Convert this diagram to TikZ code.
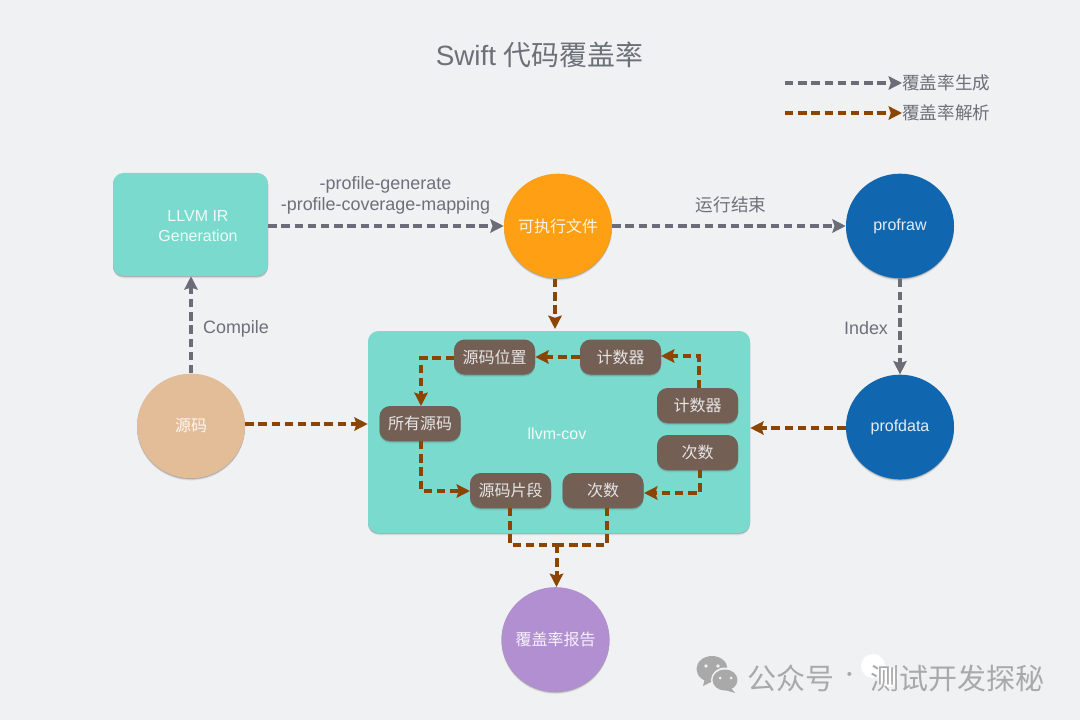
\documentclass[tikz,border=0pt]{standalone}
\usepackage{fontspec}
\setmainfont{Liberation Sans}
\newfontfamily\cjk{Noto Sans CJK SC}
\usetikzlibrary{arrows.meta,shadows,shapes.geometric}
\definecolor{bgc}{HTML}{EFF1F3}
\definecolor{teal}{HTML}{79DACD}
\definecolor{orangec}{HTML}{FF9F14}
\definecolor{bluec}{HTML}{1067B0}
\definecolor{peach}{HTML}{E3BC98}
\definecolor{purplec}{HTML}{B18FD0}
\definecolor{inner}{HTML}{745F55}
\definecolor{greyline}{HTML}{6B6C78}
\definecolor{brownline}{HTML}{8B4500}
\definecolor{txt}{HTML}{6C7078}
\definecolor{wm}{HTML}{A9A9A9}
\newcommand{\circtext}[1]{\makebox[0pt]{\raisebox{-0.8pt}{#1}}}
\tikzset{
  x=0.75pt,y=-0.75pt,
  softshadow/.style={
    drop shadow={shadow xshift=0pt,shadow yshift=-0.4pt,opacity=.30,fill=black!70},
    drop shadow={shadow xshift=0pt,shadow yshift=-1pt,opacity=.18,fill=black!70},
    drop shadow={shadow xshift=0pt,shadow yshift=-1.7pt,opacity=.09,fill=black!70}},
  circ/.style={ellipse,minimum width=81pt,minimum height=78.5pt,inner sep=0pt,softshadow,text=white,text opacity=.88,font=\cjk\fontsize{12}{14}\selectfont},
  bigbox/.style={rounded corners=8pt,fill=teal,softshadow,inner sep=0pt},
  innerbox/.style={rounded corners=8pt,fill=inner,minimum width=60.75pt,minimum height=26.25pt,inner sep=0pt,text=white!90!black,font=\cjk\fontsize{12}{14}\selectfont,softshadow},
  flow/.style={line width=3pt,dash pattern=on 6.3pt off 3.6pt,-{Stealth[length=10pt,width=10pt,inset=1.6pt]}},
  flownotip/.style={line width=3pt,dash pattern=on 6.3pt off 3.6pt},
  gen/.style={flow,draw=greyline,color=greyline},
  ana/.style={flow,draw=brownline,color=brownline},
  ananotip/.style={flownotip,draw=brownline},
  lab/.style={text=txt,inner sep=0pt,font=\fontsize{13.45}{15.75}\selectfont,align=center},
  cjklab/.style={text=txt,inner sep=0pt,font=\cjk\fontsize{13.2}{15}\selectfont},
  wmtext/.style={text=wm,inner sep=0pt,font=\cjk\fontsize{21.75}{24}\selectfont},
}
\begin{document}
\begin{tikzpicture}
\path[use as bounding box,fill=bgc] (0,0) rectangle (1080,720);
% title and legend
\node[text=txt,inner sep=0pt,font=\fontsize{20.9}{24}\selectfont] (title) at (539.5,55) {Swift {\cjk 代码覆盖率}};
\node[cjklab,anchor=west] (leg1) at (902,83) {覆盖率生成};
\node[cjklab,anchor=west] (leg2) at (902,113) {覆盖率解析};
\coordinate (leg1s) at (785,83);
\coordinate (leg2s) at (785,113);
\draw[gen] (leg1s) -- (leg1.west);
\draw[ana] (leg2s) -- (leg2.west);
% big nodes
\node[bigbox,minimum width=116.25pt,minimum height=77.25pt] (ir) at (190.5,224.5) {};
\node[text=white,text opacity=.88,inner sep=0pt,align=center,font=\fontsize{12}{15}\selectfont] (irlab) at (198,226) {LLVM IR\\Generation};
\node[circ,fill=orangec] (exec) at (558,226) {\circtext{可执行文件}};
\node[circ,fill=bluec,font=\fontsize{12}{14}\selectfont] (raw) at (900,226) {\circtext{profraw}};
\node[circ,fill=bluec,font=\fontsize{12}{14}\selectfont] (data) at (900,427) {\circtext{profdata}};
\node[circ,fill=peach] (src) at (191,426) {\circtext{源码}};
\node[circ,fill=purplec] (rep) at (555.5,639.5) {\circtext{覆盖率报告}};
\node[bigbox,minimum width=286.5pt,minimum height=151.5pt] (cov) at (559,432) {};
\node[text=white!92!teal,inner sep=0pt,font=\fontsize{12}{14}\selectfont] (covlab) at (557,434) {llvm-cov};
% inner nodes
\node[innerbox] (pos) at (494.5,357) {源码位置};
\node[innerbox] (cnta) at (620.5,357) {计数器};
\node[innerbox] (cntb) at (697.5,405.5) {计数器};
\node[innerbox] (numb) at (697.5,452.5) {次数};
\node[innerbox] (all) at (420,423.5) {所有源码};
\node[innerbox] (seg) at (510.5,490.5) {源码片段};
\node[innerbox] (numa) at (603,490.5) {次数};
% outer connectors
\draw[gen] (ir.east |- exec.west) -- (exec.west);
\draw[gen] (exec.east) -- (raw.west);
\draw[gen] (raw.south) -- (data.north);
\draw[gen] (src.north) -- (src.north |- ir.south);
\draw[ana] (src.east |- 0,424) -- (cov.west |- 0,424);
\draw[ana] (data.west |- 0,428) -- (cov.east |- 0,428);
\coordinate (execB) at (555,279);
\coordinate (covT) at (555,329);
\draw[ana] (execB) -- (covT);
% inner connectors
\coordinate (cntbtop) at (699,388);
\coordinate (cntaR) at (661,356);
\draw[ana] (cntbtop) |- (cntaR);
\draw[ana] (cnta.west) -- (pos.east);
\coordinate (posL) at (454,358);
\coordinate (allT) at (421,406);
\draw[ana] (posL) -| (allT);
\coordinate (allB) at (421,441);
\coordinate (segL) at (470,491);
\draw[ana] (allB) |- (segL);
\coordinate (numbB) at (700,470);
\coordinate (numaR) at (644,493);
\draw[ana] (numbB) |- (numaR);
% merge
\coordinate (segB) at (510,508);
\coordinate (numaB) at (606.5,508);
\coordinate (merge) at (556.5,545);
\coordinate (repT) at (556.5,587);
\draw[ananotip] (segB) |- (merge);
\draw[ananotip] (numaB) |- (merge);
\draw[ana] (merge) -- (repT);
% labels
\node[lab] (flags) at (385.5,195) {-profile-generate\\-profile-coverage-mapping};
\node[cjklab] (runend) at (731,205) {运行结束};
\node[lab] (compile) at (236,329) {Compile};
\node[lab] (index) at (866,328) {Index};
% watermark
\fill[wm] (712,669) ellipse [x radius=15.5,y radius=13];
\fill[wm] (705,678) -- (703,686) -- (713,681) -- cycle;
\fill[bgc] (725,680) ellipse [x radius=14,y radius=12.5];
\fill[wm] (725,680) ellipse [x radius=12.5,y radius=10.5];
\fill[wm] (731,688) -- (735,693) -- (725,690) -- cycle;
\fill[bgc] (706,666) circle (1.8);
\fill[bgc] (718,666) circle (1.8);
\fill[bgc] (720,678) circle (1.5);
\fill[bgc] (731,678) circle (1.5);
\fill[white] (873,666) circle (12);
\fill[white] (888,677) circle (10);
\node[wmtext] (wm1) at (790.5,678) {公众号};
\node[wmtext,font=\cjk\fontsize{14}{16}\selectfont] (wm2) at (850,677) {·};
\node[wmtext] (wm3) at (957,678) {测试开发探秘};
\end{tikzpicture}
\end{document}
